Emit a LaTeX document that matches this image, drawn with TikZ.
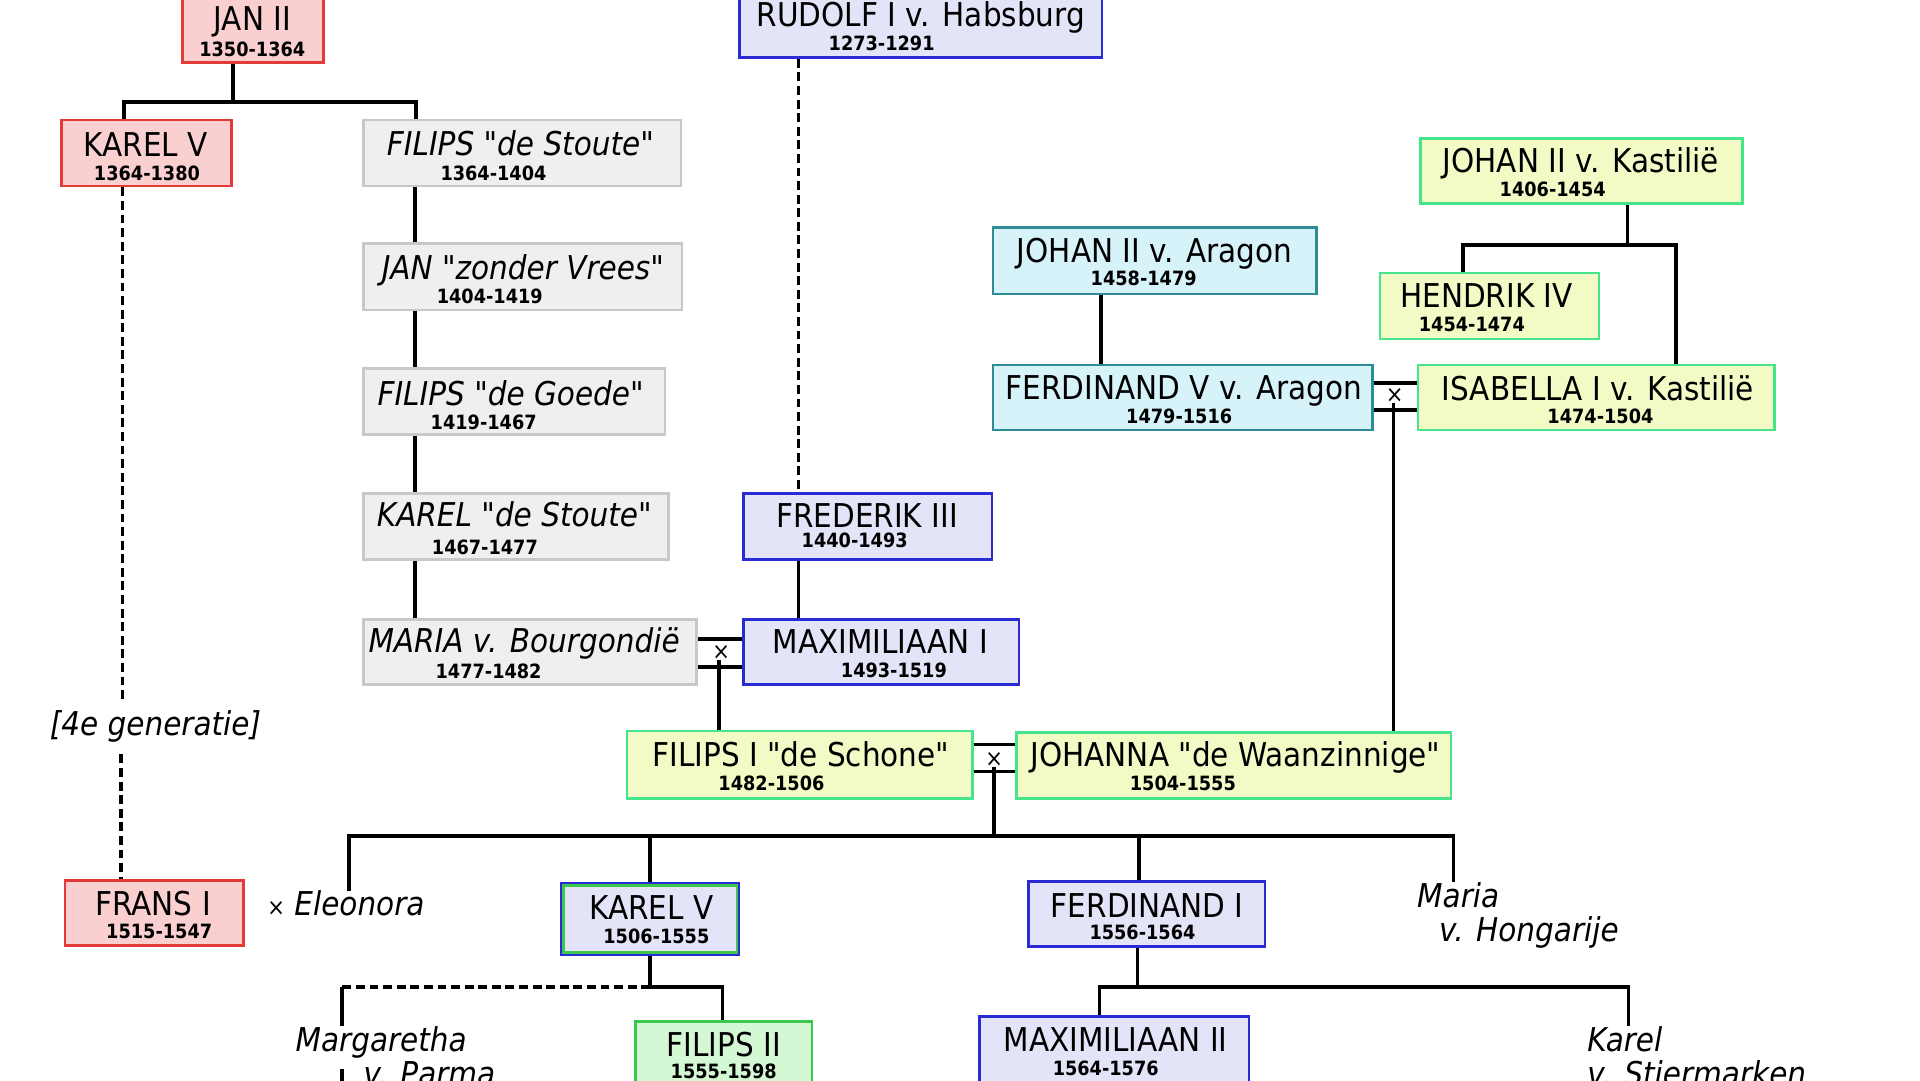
\documentclass[tikz,border=0pt]{standalone}
\usepackage{fontspec}
\setmainfont{DejaVu Sans}[FakeStretch=0.9, Ligatures=TeXOff]
\usetikzlibrary{fit}

\definecolor{redfill}{RGB}{249,207,207}
\definecolor{redline}{RGB}{229,58,58}
\definecolor{greyfill}{RGB}{239,239,239}
\definecolor{greyline}{RGB}{200,200,200}
\definecolor{bluefill}{RGB}{228,228,248}
\definecolor{blueline}{RGB}{43,43,214}
\definecolor{cyanfill}{RGB}{214,243,250}
\definecolor{cyanline}{RGB}{47,139,150}
\definecolor{ygfill}{RGB}{243,250,198}
\definecolor{ygline}{RGB}{72,228,140}
\definecolor{greenfill}{RGB}{211,248,211}
\definecolor{greenline}{RGB}{60,200,74}

\tikzset{
	box/.style={line width=1.1pt, inner sep=0pt},
	redbox/.style={box, draw=redline, fill=redfill},
	greybox/.style={box, draw=greyline, fill=greyfill},
	bluebox/.style={box, draw=blueline, fill=bluefill},
	cyanbox/.style={box, draw=cyanline, fill=cyanfill},
	ygbox/.style={box, draw=ygline, fill=ygfill},
	greenbox/.style={box, draw=greenline, fill=greenfill},
	pname/.style={anchor=base, inner sep=0pt, font=\fontsize{14}{16}\selectfont},
	pnamei/.style={pname, font=\fontsize{14}{16}\selectfont\itshape},
	yrs/.style={anchor=base, inner sep=0pt, font=\fontsize{8.4}{9}\selectfont\bfseries},
	kid/.style={line width=1.6pt},
	far/.style={kid, dash pattern=on 3.8pt off 2pt},
	wed/.style={inner sep=0pt, font=\fontsize{10}{12}\selectfont},
	loose/.style={inner sep=0pt, align=left, font=\fontsize{14}{14.7}\selectfont\itshape}
}

\begin{document}
\begin{tikzpicture}[x=0.018367cm, y=-0.018367cm]
	\fill[white] (0,0) rectangle (1568,882);
	\useasboundingbox (0,0) rectangle (1568,882);
	% Valois / Bourgondie
	\node[redbox, fit={(149,-5) (264,51)}] (0) {};
	\node[pname] (0a) at (206,25) {JAN II};
	\node[yrs] (0b) at (206,46.5) {1350-1364};
	\node[redbox, fit={(50,98) (189,152)}] (1) {};
	\node[pname] (1a) at (119,128) {KAREL V};
	\node[yrs] (1b) at (120,147.5) {1364-1380};
	\node[greybox, fit={(297,98) (556,152)}] (2) {};
	\node[pnamei] (2a) at (425,127) {FILIPS "de Stoute"};
	\node[yrs] (2b) at (403,147.5) {1364-1404};
	\node[greybox, fit={(297,199) (557,253)}] (3) {};
	\node[pnamei] (3a) at (427,228) {JAN "zonder Vrees"};
	\node[yrs] (3b) at (400,247.5) {1404-1419};
	\node[greybox, fit={(297,301) (543,355)}] (4) {};
	\node[pnamei] (4a) at (417,331) {FILIPS "de Goede"};
	\node[yrs] (4b) at (395,350.5) {1419-1467};
	\node[greybox, fit={(297,403) (546,457)}] (5) {};
	\node[pnamei] (5a) at (420,430) {KAREL "de Stoute"};
	\node[yrs] (5b) at (396,452.5) {1467-1477};
	\node[greybox, fit={(297,506) (569,559)}] (6) {};
	\node[pnamei] (6a) at (428,533) {MARIA v. Bourgondië};
	\node[yrs] (6b) at (399,554.5) {1477-1482};
	% Habsburg
	\node[bluebox, fit={(604,-8) (900,47)}] (7) {};
	\node[pname] (7a) at (752,22) {RUDOLF I v. Habsburg};
	\node[yrs] (7b) at (720,41.5) {1273-1291};
	\node[bluebox, fit={(607,403) (810,457)}] (8) {};
	\node[pname] (8a) at (708,431) {FREDERIK III};
	\node[yrs] (8b) at (698,447.5) {1440-1493};
	\node[bluebox, fit={(607,506) (832,559)}] (9) {};
	\node[pname] (9a) at (719,534) {MAXIMILIAAN I};
	\node[yrs] (9b) at (730,553.5) {1493-1519};
	% Aragon / Kastilie
	\node[cyanbox, fit={(811,186) (1075,240)}] (10) {};
	\node[pname] (10a) at (943,214) {JOHAN II v. Aragon};
	\node[yrs] (10b) at (934,233.5) {1458-1479};
	\node[cyanbox, fit={(811,298) (1121,351)}] (11) {};
	\node[pname] (11a) at (967,326) {FERDINAND V v. Aragon};
	\node[yrs] (11b) at (963,345.5) {1479-1516};
	\node[ygbox, fit={(1160,113) (1423,166)}] (12) {};
	\node[pname] (12a) at (1291,141) {JOHAN II v. Kastilië};
	\node[yrs] (12b) at (1268,160.5) {1406-1454};
	\node[ygbox, fit={(1127,223) (1306,277)}] (13) {};
	\node[pname] (13a) at (1214,251) {HENDRIK IV};
	\node[yrs] (13b) at (1202,270.5) {1454-1474};
	\node[ygbox, fit={(1158,298) (1449,351)}] (14) {};
	\node[pname] (14a) at (1305,327) {ISABELLA I v. Kastilië};
	\node[yrs] (14b) at (1307,345.5) {1474-1504};
	\node[ygbox, fit={(512,597) (794,652)}] (15) {};
	\node[pname] (15a) at (654,626) {FILIPS I "de Schone"};
	\node[yrs] (15b) at (630,645.5) {1482-1506};
	\node[ygbox, fit={(830,598) (1185,652)}] (16) {};
	\node[pname] (16a) at (1009,626) {JOHANNA "de Waanzinnige"};
	\node[yrs] (16b) at (966,645.5) {1504-1555};
	% onderste rij
	\node[redbox, fit={(53,719) (199,772)}] (17) {};
	\node[pname] (17a) at (125,748) {FRANS I};
	\node[yrs] (17b) at (130,766.5) {1515-1547};
	\node[bluebox, line width=1.4pt, fit={(459,722) (603,779)}] (18) {};
	\draw[greenline, line width=0.9pt] ([shift={(1.3pt,-1.3pt)}]18.north west) rectangle ([shift={(-1.3pt,1.3pt)}]18.south east);
	\node[pname] (18a) at (532,751) {KAREL V};
	\node[yrs] (18b) at (536,770.5) {1506-1555};
	\node[bluebox, fit={(840,720) (1033,773)}] (19) {};
	\node[pname] (19a) at (937,749) {FERDINAND I};
	\node[yrs] (19b) at (933,767.5) {1556-1564};
	\node[greenbox, fit={(519,834) (663,900)}] (20) {};
	\node[pname] (20a) at (591,863) {FILIPS II};
	\node[yrs] (20b) at (591,880.5) {1555-1598};
	\node[bluebox, fit={(800,830) (1020,900)}] (21) {};
	\node[pname] (21a) at (911,859) {MAXIMILIAAN II};
	\node[yrs] (21b) at (903,878.5) {1564-1576};
	% losse namen
	\node[pnamei, outer ysep=5pt] (gen) at (127,601) {[4e generatie]};
	\node[pname, anchor=base west] (el) at (218,748) {{\fontsize{10}{12}\selectfont ×} \textit{Eleonora}};
	\node[loose, anchor=north west] (mar) at (1157,720) {Maria\\\hspace*{9.4pt}v. Hongarije};
	\node[loose, anchor=north west] (mg) at (241,838) {Margaretha\\\hspace*{29pt}v. Parma};
	\node[loose, anchor=north west] (kl) at (1296,838) {Karel\\v. Stiermarken};
	\coordinate (mgend) at (279,895);
	% huwelijken
	\node[wed] (w1) at (589,533) {×};
	\node[wed] (w2) at (1139,323) {×};
	\node[wed] (w3) at (812,620) {×};
	\draw[kid] (6.east |- 0,522) -- (9.west |- 0,522);
	\draw[kid] (6.east |- 0,545) -- (9.west |- 0,545);
	\draw[kid] (11.east |- 0,313) -- (14.west |- 0,313);
	\draw[kid] (11.east |- 0,335) -- (14.west |- 0,335);
	\draw[kid] (15.east |- 0,608) -- (16.west |- 0,608);
	\draw[kid] (15.east |- 0,630) -- (16.west |- 0,630);
	% afstamming
	\draw[kid] (0.south -| 190,0) -- (190,83);
	\draw[kid] (1.north -| 101,0) -- (101,83) -- (340,83) -- (2.north -| 340,0);
	\draw[kid] (2.south -| 339,0) -- (3.north -| 339,0);
	\draw[kid] (3.south -| 339,0) -- (4.north -| 339,0);
	\draw[kid] (4.south -| 339,0) -- (5.north -| 339,0);
	\draw[kid] (5.south -| 339,0) -- (6.north -| 339,0);
	\draw[far] (1.south -| 100,0) -- (gen.north -| 100,0);
	\draw[far] (gen.south -| 99,0) -- (17.north -| 99,0);
	\draw[far] (7.south -| 652,0) -- (8.north -| 652,0);
	\draw[kid] (8.south -| 652,0) -- (9.north -| 652,0);
	\draw[kid] (w1.south -| 587,545) -- (15.north -| 587,0);
	\draw[kid] (10.south -| 899,0) -- (11.north -| 899,0);
	\draw[kid] (12.south -| 1329,0) -- (1329,200);
	\draw[kid] (13.north -| 1195,0) -- (1195,200) -- (1369,200) -- (14.north -| 1369,0);
	\draw[kid] (w2.south -| 1138,335) -- (16.north -| 1138,0);
	\draw[kid] (w3.south -| 812,630) -- (812,683);
	\draw[kid] (el.north -| 285,0) -- (285,683) -- (1187,683) -- (mar.north -| 1187,0);
	\draw[kid] (18.north -| 531,0) -- (531,683);
	\draw[kid] (19.north -| 930,0) -- (930,683);
	\draw[kid] (18.south -| 531,0) -- (531,806) -| (20.north -| 590,0);
	\draw[far] (531,806) -- (279,806);
	\draw[kid] (279,806) -- (mg.north -| 279,0);
	\draw[kid] (279,873) -- (mgend);
	\draw[kid] (19.south -| 929,0) -- (929,806);
	\draw[kid] (21.north -| 898,0) -- (898,806) -- (1330,806) -- (kl.north -| 1330,0);
\end{tikzpicture}
\end{document}
